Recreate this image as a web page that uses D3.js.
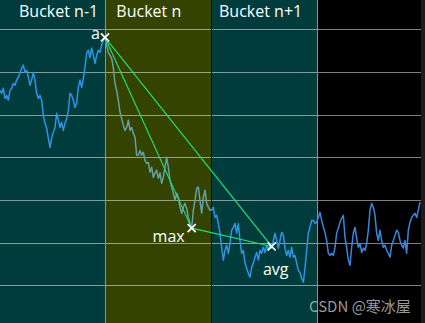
<!DOCTYPE html>
<html>
<head>
<meta charset="utf-8">
<script src="https://cdn.jsdelivr.net/npm/d3@7"></script>
<style>
  html, body { margin: 0; padding: 0; background: #1c1c1c; }
  svg { display: block; }
</style>
</head>
<body>
<svg id="chart" width="425" height="323" viewBox="0 0 425 323"></svg>
<script>
// samples, one every step of time
const series = [
  45.7, 45.0, 46.2, 43.8, 44.5, 43.4, 45.7, 46.2, 47.3, 46.9,
  48.1, 48.8, 49.7, 50.9, 51.6, 49.9, 50.4, 48.8, 46.9, 48.1,
  49.9, 48.1, 45.0, 43.8, 44.5, 43.4, 39.8, 38.0, 36.8, 34.5,
  32.3, 34.5, 35.9, 37.0, 40.3, 38.7, 37.0, 38.2, 36.3, 38.0,
  39.1, 41.0, 45.0, 44.5, 43.4, 41.7, 42.7, 46.4, 48.1, 46.4,
  48.5, 51.1, 54.4, 55.1, 53.4, 55.6, 53.9, 52.0, 53.9, 55.1,
  54.6, 56.3, 57.4, 58.1,
  56.3, 54.6, 53.9, 53.2, 50.9, 47.3, 45.7, 43.4, 40.6, 39.1,
  37.5, 36.3, 37.0, 38.7, 36.3, 37.0, 35.6, 34.7, 30.5, 30.5,
  31.6, 30.5, 31.2, 29.3, 28.6, 28.8, 26.5, 27.7, 25.3, 26.3,
  27.0, 25.1, 26.3, 23.9, 25.3, 27.7, 30.0, 27.7, 24.6, 23.0,
  21.6, 19.9, 21.6, 20.6, 18.3, 16.9, 18.3, 19.2, 18.0, 15.9,
  14.5, 13.4, 17.6, 19.9, 22.7, 23.0, 19.9, 16.9, 20.6, 22.3,
  19.2, 18.3, 17.6, 17.6, 18.3, 15.9, 16.4, 14.5, 12.2, 8.9,
  5.9, 8.2, 9.4, 7.5, 9.8, 12.9, 13.6, 14.5, 12.2, 14.5,
  10.5, 7.5, 8.2, 5.2, 4.0, 2.8, 1.9, 4.2, 5.2, 6.6,
  7.7, 5.9, 8.2, 7.5, 8.9, 7.7, 9.4, 8.2, 9.8, 8.7,
  10.5, 12.2, 10.5, 8.7, 10.5, 12.4, 11.7, 8.7, 7.0, 8.2,
  6.6, 8.9, 6.6, 7.0, 5.2, 3.5, 3.0, 1.6, 0.7, 4.0,
  8.2, 12.2, 13.6, 15.2,
  15.2, 14.5, 14.8, 15.9, 17.1, 15.2, 13.6, 12.4, 10.5, 7.5,
  7.0, 7.5, 7.0, 8.9, 12.2, 13.4, 14.8, 15.7, 16.4, 11.3,
  8.7, 5.9, 4.7, 8.9, 12.2, 13.6, 11.0, 8.9, 9.8, 7.7,
  8.7, 8.2, 9.8, 12.9, 17.6, 19.2, 18.3, 16.4, 12.2, 10.5,
  12.9, 10.5, 8.9, 9.4, 8.2, 7.5, 6.6, 9.4, 10.5, 11.7,
  12.9, 12.4, 10.5, 9.4, 8.7, 10.5, 7.5, 12.9, 14.8, 15.9,
  16.4, 16.9, 15.9, 17.6, 19.5
];

// bucket borders in time steps
const bucketEdges = [0, 63.2, 126.6, 190.4, 252.6];
const bucketNames = ["Bucket n-1", "Bucket n", "Bucket n+1", ""];
const bucketFills = ["#003c3c", "#344300", "#003c3c", "#000000"];
const gridValues = [0, 10, 20, 30, 40, 50, 60];

// picked points
const pointA = { t: 63, v: series[63], label: "a" };
const pointMax = { t: 115, v: series[115], label: "max" };
const pointAvg = { t: 163, v: 9.1, label: "avg" };

const svg = d3.select("#chart");

const x = d3.scaleLinear().domain([0, series.length - 1]).range([0, 420]);
const y = d3.scaleLinear().domain([0, 60]).range([285.3, 29.3]);

const buckets = bucketNames.map((name, i) => ({
    name: name,
    x0: bucketEdges[i],
    x1: bucketEdges[i + 1],
    fill: bucketFills[i]
}));

// backgrounds
svg.append("g")
    .selectAll("rect")
    .data(buckets)
    .enter()
    .append("rect")
    .attr("x", d => x(d.x0))
    .attr("y", 0)
    .attr("width", d => x(d.x1) - x(d.x0))
    .attr("height", 323)
    .attr("fill", d => d.fill);

// horizontal grid
svg.append("g")
    .selectAll("line")
    .data(gridValues)
    .enter()
    .append("line")
    .attr("x1", 0)
    .attr("x2", x(bucketEdges[4]))
    .attr("y1", d => Math.round(y(d)) + 0.5)
    .attr("y2", d => Math.round(y(d)) + 0.5)
    .attr("stroke", "#ffffff")
    .attr("stroke-opacity", 0.5)
    .attr("stroke-width", 1);

// bucket borders
const borderColors = ["#64a4a4", "#111111", "#64a4a4"];
svg.append("g")
    .selectAll("line")
    .data(bucketEdges.slice(1, 4))
    .enter()
    .append("line")
    .attr("x1", d => Math.round(x(d)) + 0.5)
    .attr("x2", d => Math.round(x(d)) + 0.5)
    .attr("y1", 0)
    .attr("y2", 323)
    .attr("stroke", (d, i) => borderColors[i])
    .attr("stroke-width", 1);

// clip regions for the series line
const defs = svg.append("defs");
buckets.forEach((b, i) => {
    defs.append("clipPath")
        .attr("id", "clip" + i)
        .append("rect")
        .attr("x", x(b.x0))
        .attr("y", 0)
        .attr("width", x(b.x1) - x(b.x0))
        .attr("height", 323);
});

const line = d3.line()
    .x((d, i) => x(i))
    .y(d => y(d));

const lineColors = ["#2e94e4", "#64a0a4", "#2e94e4", "#3a86de"];
buckets.forEach((b, i) => {
    svg.append("path")
        .datum(series)
        .attr("clip-path", `url(#clip${i})`)
        .attr("d", line)
        .attr("fill", "none")
        .attr("stroke", lineColors[i])
        .attr("stroke-width", 1.5)
        .attr("stroke-linejoin", "round");
});

// triangle
const tri = [[pointA, pointMax], [pointA, pointAvg], [pointMax, pointAvg]];
svg.append("g")
    .selectAll("line")
    .data(tri)
    .enter()
    .append("line")
    .attr("x1", d => x(d[0].t))
    .attr("y1", d => y(d[0].v))
    .attr("x2", d => x(d[1].t))
    .attr("y2", d => y(d[1].v))
    .attr("stroke", "#22de78")
    .attr("stroke-width", 1.2);

// markers
const picked = [pointA, pointMax, pointAvg];
svg.append("g")
    .selectAll("path")
    .data(picked)
    .enter()
    .append("path")
    .attr("transform", d => `translate(${x(d.t)},${y(d.v)})`)
    .attr("d", d3.symbol(d3.symbolTimes, 44))
    .attr("fill", "none")
    .attr("stroke", "#ffffff")
    .attr("stroke-width", 1.7);

const labelShift = {
    a: { dx: -5, dy: 2, anchor: "end" },
    max: { dx: -7, dy: 14, anchor: "end" },
    avg: { dx: 4, dy: 29, anchor: "middle" }
};
svg.append("g")
    .selectAll("text")
    .data(picked)
    .enter()
    .append("text")
    .attr("x", d => x(d.t) + labelShift[d.label].dx)
    .attr("y", d => y(d.v) + labelShift[d.label].dy)
    .attr("text-anchor", d => labelShift[d.label].anchor)
    .attr("fill", "#ffffff")
    .style("font-family", "'Open Sans', sans-serif")
    .style("font-size", "16px")
    .text(d => d.label);

// bucket titles
const titleOffsets = [19, 11, 8, 0];
svg.append("g")
    .selectAll("text")
    .data(buckets)
    .enter()
    .append("text")
    .attr("x", (d, i) => x(d.x0) + titleOffsets[i])
    .attr("y", 17)
    .attr("fill", "#ffffff")
    .style("font-family", "'Open Sans', sans-serif")
    .style("font-size", "16px")
    .text(d => d.name);

// watermark
svg.append("text")
    .attr("x", 309)
    .attr("y", 312)
    .attr("fill", "#b8b8b8")
    .attr("fill-opacity", 0.85)
    .style("font-family", "'Noto Sans CJK SC', 'Noto Sans', sans-serif")
    .style("font-size", "15px")
    .text("CSDN @寒冰屋");
</script>
</body>
</html>
